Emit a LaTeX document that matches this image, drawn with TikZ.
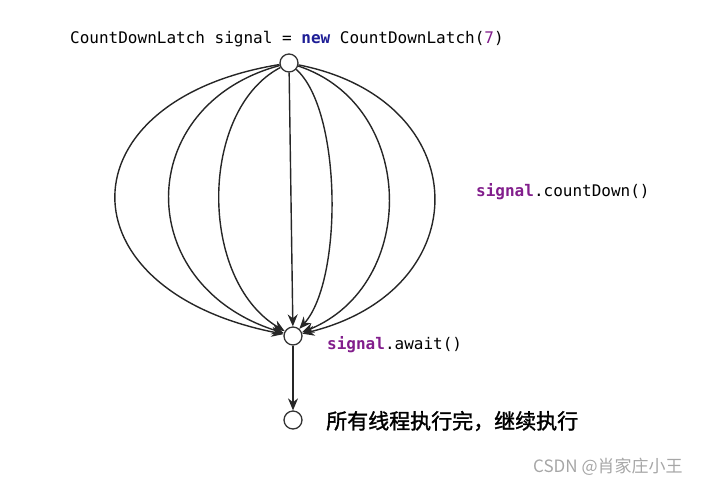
\documentclass[tikz,border=0pt]{standalone}
\usepackage{fontspec}
\setmonofont{DejaVu Sans Mono}
\newfontfamily\cjk{Noto Sans CJK SC}
\newfontfamily\cjkb{Noto Sans CJK SC}[FakeBold=1.5]
\usetikzlibrary{arrows.meta}
\definecolor{kwblue}{RGB}{30,30,150}
\definecolor{kwpurple}{RGB}{130,30,140}
\begin{document}
\begin{tikzpicture}[x=1pt,y=-1pt,
  st/.style={circle,draw=black!80,line width=1.3pt,minimum size=18pt,inner sep=0pt,fill=white},
  edge/.style={draw=black!85,line width=1.4pt,-{Stealth[length=12pt,width=10pt]}},
  code/.style={font=\ttfamily\fontsize{16}{19}\selectfont,anchor=west,inner sep=0pt}]
\useasboundingbox (0,0) rectangle (719,488);
\node[st] (top) at (289,63) {};
\node[st] (mid) at (293,336) {};
\node[st] (bot) at (293,420) {};
\node[code] (t1) at (70,39) {CountDownLatch signal = \textcolor{kwblue}{\bfseries new} CountDownLatch(\textcolor{kwpurple}{7})};
\node[code] (t2) at (476,192) {\textcolor{kwpurple}{\bfseries signal}.countDown()};
\node[code] (t3) at (327,345) {\textcolor{kwpurple}{\bfseries signal}.await()};
\node[anchor=west,inner sep=0pt,font=\cjkb\fontsize{21}{25}\selectfont] (t4) at (326,421) {所有线程执行完，继续执行};
\node[anchor=west,inner sep=0pt,text=gray!70,font=\cjk\fontsize{17}{20}\selectfont] (wm) at (533,467) {CSDN @肖家庄小王};
\draw[edge] (top) .. controls (62,100) and (59,290) .. (mid);
\draw[edge] (top) .. controls (133,105) and (131,285) .. (mid);
\draw[edge] (top) .. controls (199,110) and (198,280) .. (mid);
\draw[edge] (top) -- (mid);
\draw[edge] (top) .. controls (342,110) and (343,280) .. (mid);
\draw[edge] (top) .. controls (417,105) and (419,285) .. (mid);
\draw[edge] (top) .. controls (477,100) and (480,290) .. (mid);
\draw[edge] (mid) -- (bot);
\end{tikzpicture}
\end{document}
